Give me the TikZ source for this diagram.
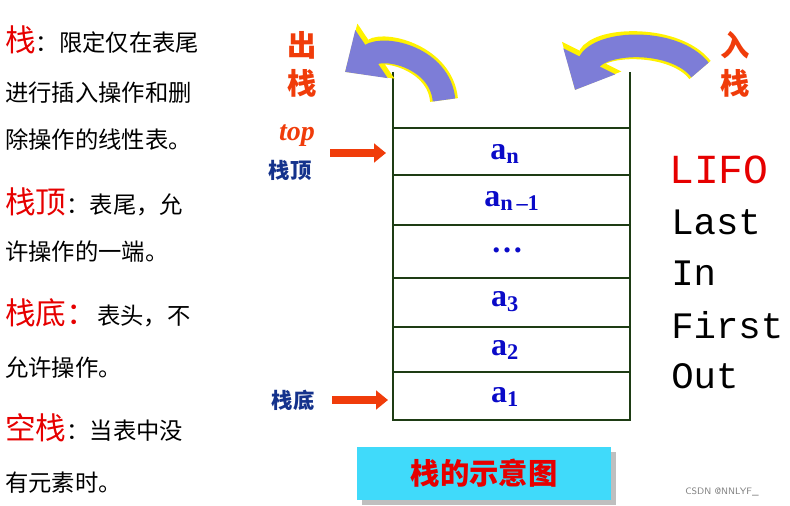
\documentclass[tikz,border=0pt]{standalone}
\usepackage{fontspec}
\setmainfont{Liberation Serif}
\newfontfamily\cjk{Noto Sans CJK SC}
\newfontfamily\mono{Liberation Mono}
\usetikzlibrary{arrows.meta}
\definecolor{ared}{RGB}{230,0,0}
\definecolor{ablue}{RGB}{10,10,200}
\definecolor{dblue}{RGB}{20,50,140}
\definecolor{orng}{RGB}{240,60,10}
\definecolor{curv}{RGB}{125,125,215}
\definecolor{cyanbox}{RGB}{64,218,250}
\definecolor{wall}{RGB}{30,60,20}
\begin{document}
\begin{tikzpicture}[x=0.75pt,y=-0.75pt,
  lt/.style={anchor=west,font=\cjk\fontsize{17.5}{19}\selectfont,inner sep=0},
  el/.style={font=\bfseries\fontsize{24}{26}\selectfont,text=ablue},
  side/.style={anchor=west,inner sep=0,font=\mono\fontsize{28}{30}\selectfont},
  ptr/.style={line width=6,orng,-{Triangle[length=9,width=14]}},
  curvearrow/.style={line width=17,curv,-{Triangle[length=24,width=42]}},
  curveborder/.style={line width=21,yellow,-{Triangle[length=28,width=48]}},
  vt/.style={font=\cjk\bfseries\fontsize{22}{24}\selectfont,text=orng}]
\useasboundingbox (0,0) rectangle (790,506);
% left text
\node[lt] (t1) at (5,40) {{\color{ared}\fontsize{23}{24}\selectfont 栈}：限定仅在表尾};
\node[lt] (t2) at (5,93) {进行插入操作和删};
\node[lt] (t3) at (5,140) {除操作的线性表。};
\node[lt] (t4) at (5,202) {{\color{ared}\fontsize{23}{24}\selectfont 栈顶}：表尾，允};
\node[lt] (t5) at (5,252) {许操作的一端。};
\node[lt] (t6) at (5,313) {{\color{ared}\fontsize{23}{24}\selectfont 栈底：}表头，不};
\node[lt] (t7) at (5,368) {允许操作。};
\node[lt] (t8) at (5,428) {{\color{ared}\fontsize{23}{24}\selectfont 空栈}：当表中没};
\node[lt] (t9) at (5,483) {有元素时。};
% stack
\draw[wall,line width=2] (393,72) -- (393,420) -- (630,420) -- (630,72);
\foreach \y in {128,175,225,278,327,372} \draw[wall,line width=1.5] (393,\y) -- (630,\y);
\node[el] (an) at (505,154) {a\textsubscript{n}};
\node[el] (an1) at (512,201) {a\textsubscript{n\,--1}};
\node[el] (dots) at (507,250) {\textbf{…}};
\node[el] (a3) at (505,302) {a\textsubscript{3}};
\node[el] (a2) at (505,350) {a\textsubscript{2}};
\node[el] (a1) at (505,397) {a\textsubscript{1}};
% pointers
\node[font=\bfseries\itshape\fontsize{21}{22}\selectfont,text=orng] (top) at (297,136) {top};
\node[font=\cjk\bfseries\itshape\fontsize{16}{17}\selectfont,text=dblue] (zd) at (290,170) {栈顶};
\node[font=\cjk\bfseries\itshape\fontsize{16}{17}\selectfont,text=dblue] (zdi) at (293,400) {栈底};
\coordinate (p1s) at (330,153); \coordinate (p1e) at (386,153);
\coordinate (p2s) at (332,400); \coordinate (p2e) at (388,400);
\draw[ptr] (p1s) -- (p1e);
\draw[ptr] (p2s) -- (p2e);
% curved arrows
\coordinate (o1) at (444,100); \coordinate (o2) at (345,72);
\coordinate (i1) at (700,70); \coordinate (i2) at (575,90);
\draw[curveborder] (o1) .. controls (440,58) and (385,45) .. (o2);
\draw[curvearrow] (o1) .. controls (440,58) and (385,45) .. (o2);
\draw[curveborder] (i1) .. controls (675,38) and (600,40) .. (i2);
\draw[curvearrow] (i1) .. controls (675,38) and (600,40) .. (i2);
\node[vt] (out1) at (302,45) {出};
\node[vt] (out2) at (302,83) {栈};
\node[vt] (in1) at (735,45) {入};
\node[vt] (in2) at (735,83) {栈};
% right text
\node[side,text=ared,font=\mono\fontsize{31}{33}\selectfont] (lifo) at (669,170) {LIFO};
\node[side] (last) at (671,222) {Last};
\node[side] (inw) at (671,273) {In};
\node[side] (first) at (671,325) {First};
\node[side] (outw) at (671,376) {Out};
% caption
\fill[gray!50] (362,452) rectangle (616,505);
\node[fill=cyanbox,minimum width=254*0.75pt,minimum height=53*0.75pt,inner sep=0,
  font=\cjk\bfseries\fontsize{22}{23}\selectfont,text=ared] (cap) at (484,473.5) {栈的示意图};
\node[font=\sffamily\fontsize{7}{8}\selectfont,text=gray] (wm) at (722,492) {CSDN @NNLYF\_};
\end{tikzpicture}
\end{document}
